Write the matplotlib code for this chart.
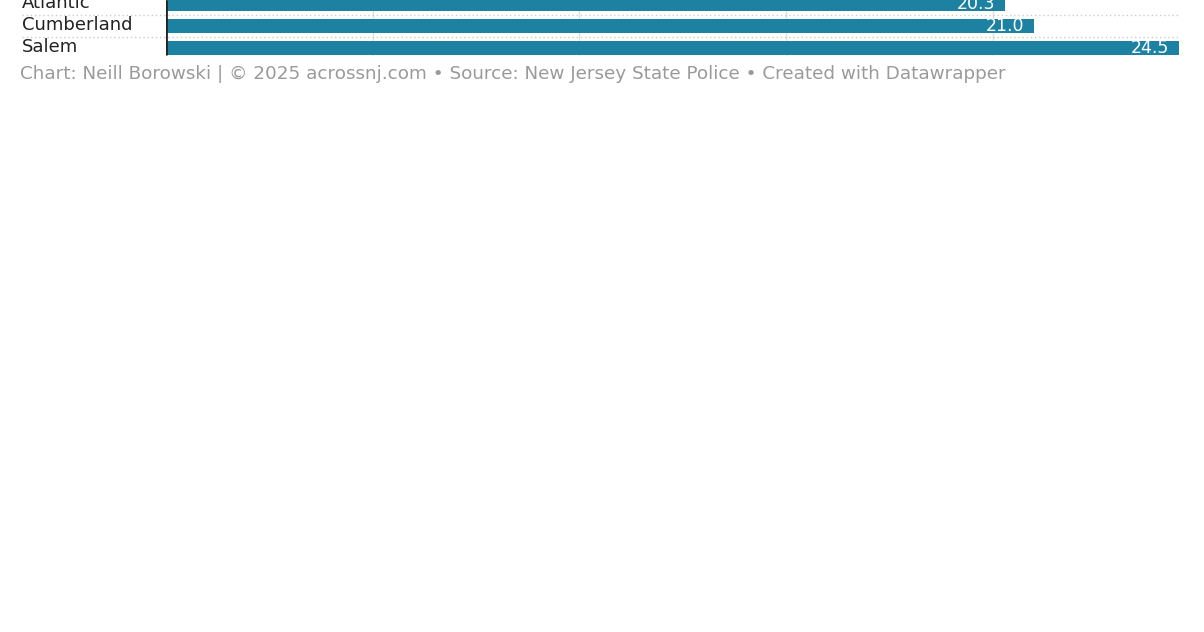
import matplotlib
matplotlib.use("Agg")
import matplotlib.pyplot as plt
from matplotlib.transforms import blended_transform_factory

counties = ["Atlantic", "Cumberland", "Salem"]
values = [20.3, 21.0, 24.5]
value_labels = ["20.3", "21.0", "24.5"]
grid_ticks = [5, 10, 15, 20]
footer = ("Chart: Neill Borowski | \u00a9 2025 acrossnj.com \u2022 Source: New Jersey State Police "
          "\u2022 Created with Datawrapper")

W, H = 1204, 632
fig = plt.figure(figsize=(W / 100, H / 100), dpi=100)
fig.patch.set_facecolor("white")

# axes in pixel geometry
left_px, right_px = 166, 1179
top_px, bot_px = 0, 60
ax = fig.add_axes([left_px / W, 1 - bot_px / H, (right_px - left_px) / W, (bot_px - top_px) / H])
ax.set_xlim(0, 24.5)
y0 = (top_px - 4) / 22
y1 = (bot_px - 4) / 22
ax.set_ylim(y1, y0)
ax.axis("off")

bar_color = "#1d81a2"
ypos = list(range(len(counties)))
ax.barh(ypos, values, height=14 / 22, color=bar_color, zorder=3)

for g in grid_ticks:
    ax.plot([g, g], [y0, 2 + 7 / 22], color="#e0e0e0", lw=1, zorder=1)

ax.plot([0, 0], [y0, 2 + 7 / 22], color="#222222", lw=2, zorder=4, solid_capstyle="butt")

# dotted row separators
tr = blended_transform_factory(fig.transFigure, ax.transData)
for i in range(len(counties) - 1):
    ax.plot([22 / W, right_px / W], [i + 0.5, i + 0.5], transform=tr, color="#cccccc",
            lw=1, ls=(0, (1, 2)), clip_on=False, zorder=2)

fnt = "DejaVu Sans"
for i, (c, v, lab) in enumerate(zip(counties, values, value_labels)):
    fig.text(22 / W, i - 0.03, c, transform=tr, fontsize=13, family=fnt,
             color="#222222", ha="left", va="center")
    ax.text(v - 0.24, i - 0.02, lab, color="white", fontsize=12.5, family=fnt,
            ha="right", va="center", zorder=5)

fig.text(20 / W, 1 - 74 / H, footer, fontsize=13.2, family=fnt, color="#9a9a9a",
         ha="left", va="center")

fig.savefig("out.png", dpi=100, facecolor="white")
